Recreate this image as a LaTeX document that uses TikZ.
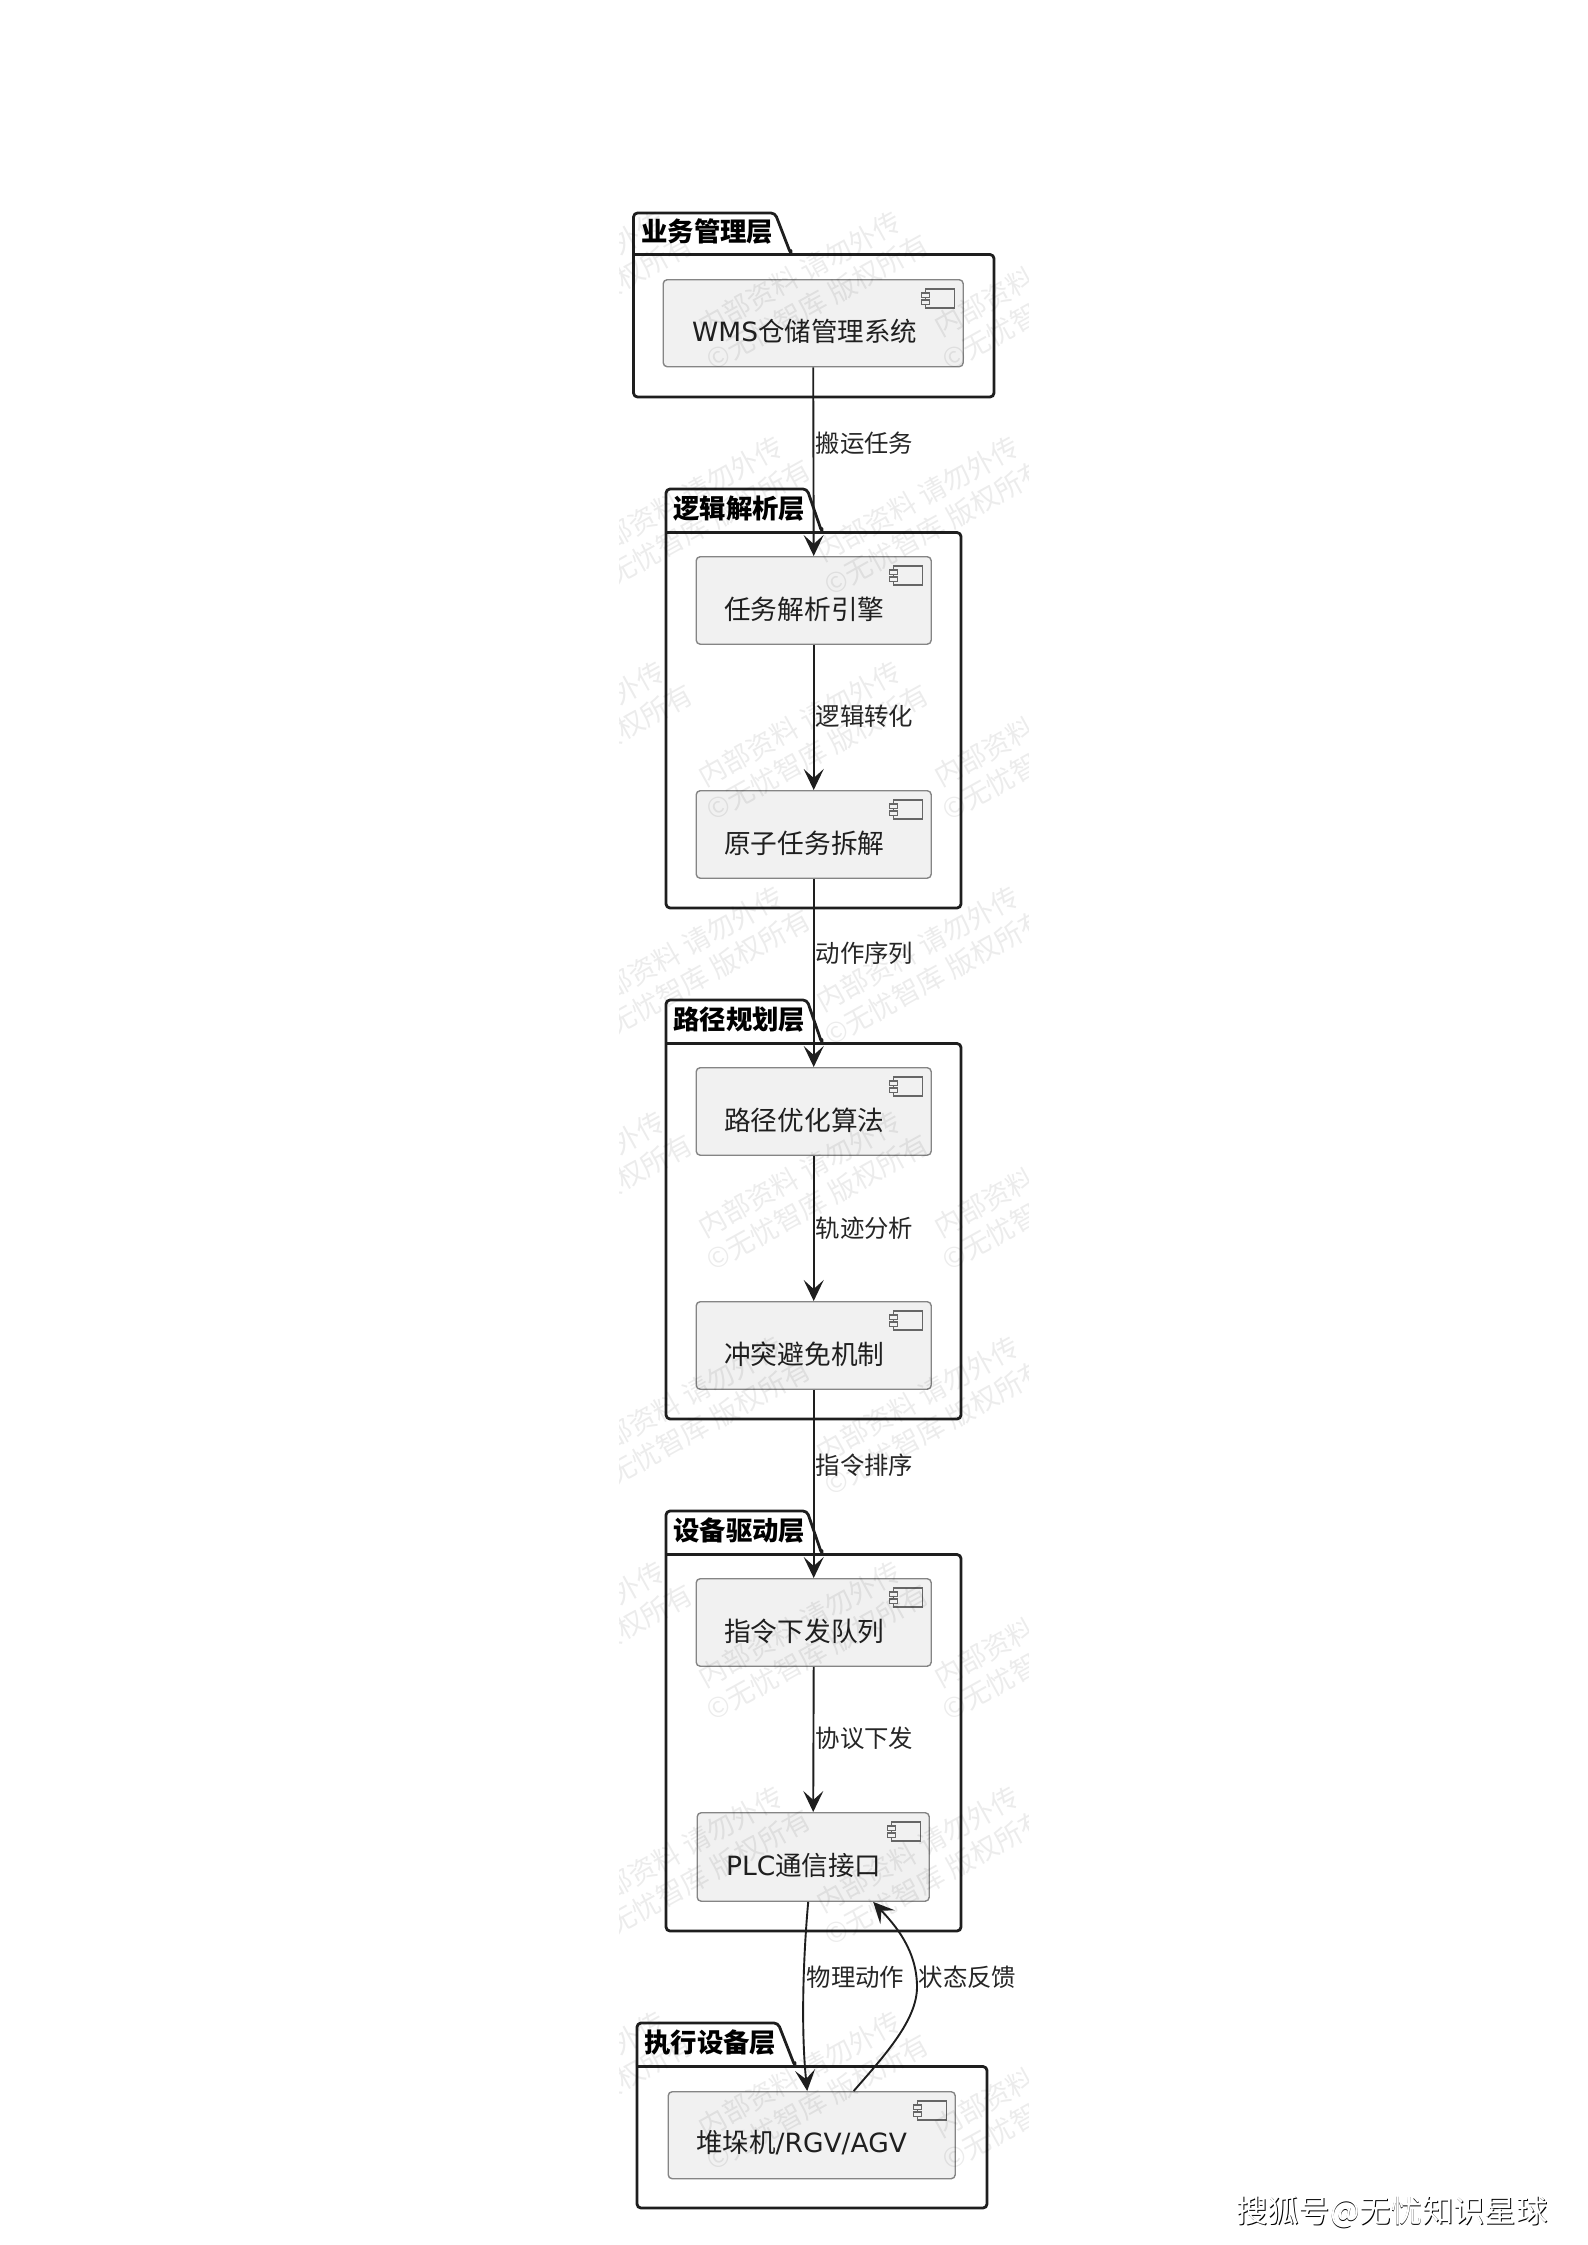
\documentclass[tikz,border=0pt]{standalone}
\usepackage{fontspec}
\usetikzlibrary{arrows.meta,calc}
\setmainfont{DejaVu Sans}
\newfontfamily\cjkf{Noto Sans CJK SC}
\definecolor{compfill}{HTML}{F1F1F1}
\definecolor{compline}{HTML}{858585}
\definecolor{inkline}{HTML}{1E1E1E}
\tikzset{
  pkgline/.style={draw=inkline,line width=2.8pt,line join=round,rounded corners=4pt},
  pkgsep/.style={draw=inkline,line width=2.4pt},
  comp/.style={draw=compline,fill=compfill,line width=1.4pt,rounded corners=4pt,inner sep=0pt,anchor=north west},
  comptext/.style={anchor=west,inner sep=0pt,font=\fontsize{26.5}{26}\selectfont,text=black!88},
  comptextcjk/.style={comptext,font=\cjkf\fontsize{26.7}{26}\selectfont},
  pkgtitle/.style={anchor=west,inner sep=0pt,font=\cjkf\fontsize{26.4}{26}\selectfont\bfseries,text=black},
  linklabel/.style={anchor=west,inner sep=0pt,font=\cjkf\fontsize{24.4}{24}\selectfont,text=black!85},
  link/.style={draw=inkline,line width=1.9pt,-{Stealth[length=21pt,width=20pt,inset=9pt]}},
  icon/.style={draw=black!60,fill=compfill,line width=1.1pt},
  wmark/.style={inner sep=0pt,rotate=29,font=\cjkf\fontsize{27.5}{27}\selectfont,text=black,text opacity=0.075},
}
\newcommand{\compbox}[5]{% name, left, top, right, bottom
  \path let \n1={#4-#2}, \n2={#5-#3} in
    node[comp,minimum width=\n1*1pt,minimum height=\n2*1pt] (#1) at (#2,#3) {};
  \draw[icon] ([shift={(-38,10)}]#1.north east) rectangle ([shift={(-9,29)}]#1.north east);
  \draw[icon] ([shift={(-42,14)}]#1.north east) rectangle ([shift={(-34,18.5)}]#1.north east);
  \draw[icon] ([shift={(-42,21)}]#1.north east) rectangle ([shift={(-34,25.5)}]#1.north east);
}
\newcommand{\pkgshape}[7]{% left, tabtop, tabright-top, slantend, bodytop, right, bottom
  \draw[pkgline] (#1,#5) -- (#1,#2) -- (#3,#2) -- (#4,#5) [sharp corners] -- (#4,#5) [rounded corners=4pt] -- (#6,#5) -- (#6,#7) -- (#1,#7) -- (#1,#5);
  \draw[pkgsep] (#1,#5) -- (#4,#5);
}
\begin{document}
\begin{tikzpicture}[x=1pt,y=-1pt]
\fill[white] (0,0) rectangle (1587,2245);
\path[use as bounding box] (0,0) rectangle (1587,2245);

% packages
\pkgshape{633.5}{213}{775}{791}{254.5}{994}{397}
\pkgshape{666}{489}{807}{822}{532.5}{961}{908}
\pkgshape{666}{1000}{807}{822}{1043.5}{961}{1419}
\pkgshape{666}{1511}{807}{822}{1554.5}{961}{1931}
\pkgshape{637}{2023}{778}{795}{2066.5}{987}{2208}

\node[pkgtitle] (t1) at (641,231) {业务管理层};
\node[pkgtitle] (t2) at (673,508.5) {逻辑解析层};
\node[pkgtitle] (t3) at (673,1020) {路径规划层};
\node[pkgtitle] (t4) at (673,1531) {设备驱动层};
\node[pkgtitle] (t5) at (644,2043) {执行设备层};

% components
\compbox{wms}{662.5}{279}{962.5}{366}
\compbox{parse}{695.5}{556}{930.5}{643.5}
\compbox{atom}{695.5}{790}{930.5}{877.5}
\compbox{route}{695.5}{1067}{930.5}{1154.5}
\compbox{avoid}{695.5}{1301}{930.5}{1388.5}
\compbox{queue}{695.5}{1578}{930.5}{1665.5}
\compbox{plc}{696.5}{1812}{928.5}{1900.5}
\compbox{agv}{667.5}{2091}{954.5}{2178}

\node[comptext] (wmst) at (692,331) {WMS{\cjkf 仓储管理系统}};
\node[comptextcjk] (parset) at (724,609) {任务解析引擎};
\node[comptextcjk] (atomt) at (724,843) {原子任务拆解};
\node[comptextcjk] (routet) at (724,1120) {路径优化算法};
\node[comptextcjk] (avoidt) at (724,1354) {冲突避免机制};
\node[comptextcjk] (queuet) at (724,1631) {指令下发队列};
\node[comptext] (plct) at (726,1865) {PLC{\cjkf 通信接口}};
\node[comptext] (agvt) at (696,2142.5) {{\cjkf 堆垛机}/RGV/AGV};

% connectors
\draw[link] (wms.south) -- (parse.north);
\draw[link] (parse.south) -- (atom.north);
\draw[link] (atom.south) -- (route.north);
\draw[link] (route.south) -- (avoid.north);
\draw[link] (avoid.south) -- (queue.north);
\draw[link] (queue.south) -- (plc.north);
\draw[link] ([xshift=-5pt]plc.south) .. controls (803,1960) and (801,2030) .. ([xshift=-4.5pt]agv.north);
\draw[link] ([xshift=42pt]agv.north) .. controls (885,2055) and (917,2020) .. (917,1987) .. controls (917,1950) and (895,1925) .. ([xshift=60pt]plc.south);

% link labels
\node[linklabel] (l1) at (815.5,443) {搬运任务};
\node[linklabel] (l2) at (815.5,716.5) {逻辑转化};
\node[linklabel] (l3) at (815.5,953.5) {动作序列};
\node[linklabel] (l4) at (815.5,1228) {轨迹分析};
\node[linklabel] (l5) at (815.5,1465) {指令排序};
\node[linklabel] (l6) at (815.5,1738) {协议下发};
\node[linklabel] (l7) at (806.5,1977) {物理动作};
\node[linklabel] (l8) at (918.5,1977) {状态反馈};

% watermarks
\begin{scope}
\clip (619,205) rectangle (1028,2215);
\foreach \k in {0,...,8} \foreach \c in {0,1,2,3} {
  \pgfmathsetmacro{\ex}{899.5-118*mod(\k,2)+236*(\c-1)}
  \pgfmathsetmacro{\ey}{219+225*\k}
  \node[wmark] (wa\k\c) at (\ex-100,\ey+55) {内部资料\ 请勿外传};
  \node[wmark] (wb\k\c) at (\ex-82,\ey+83) {©无忧智库\ 版权所有};
}
\end{scope}

% corner credit
\node[anchor=west,inner sep=0pt,font=\cjkf\fontsize{31.3}{31}\selectfont,text=black] (creditb) at (1236.8,2212.8) {搜狐号@无忧知识星球};
\node[anchor=west,inner sep=0pt,font=\cjkf\fontsize{31.3}{31}\selectfont,text=white] (credit) at (1236,2212) {搜狐号@无忧知识星球};
\end{tikzpicture}
\end{document}
